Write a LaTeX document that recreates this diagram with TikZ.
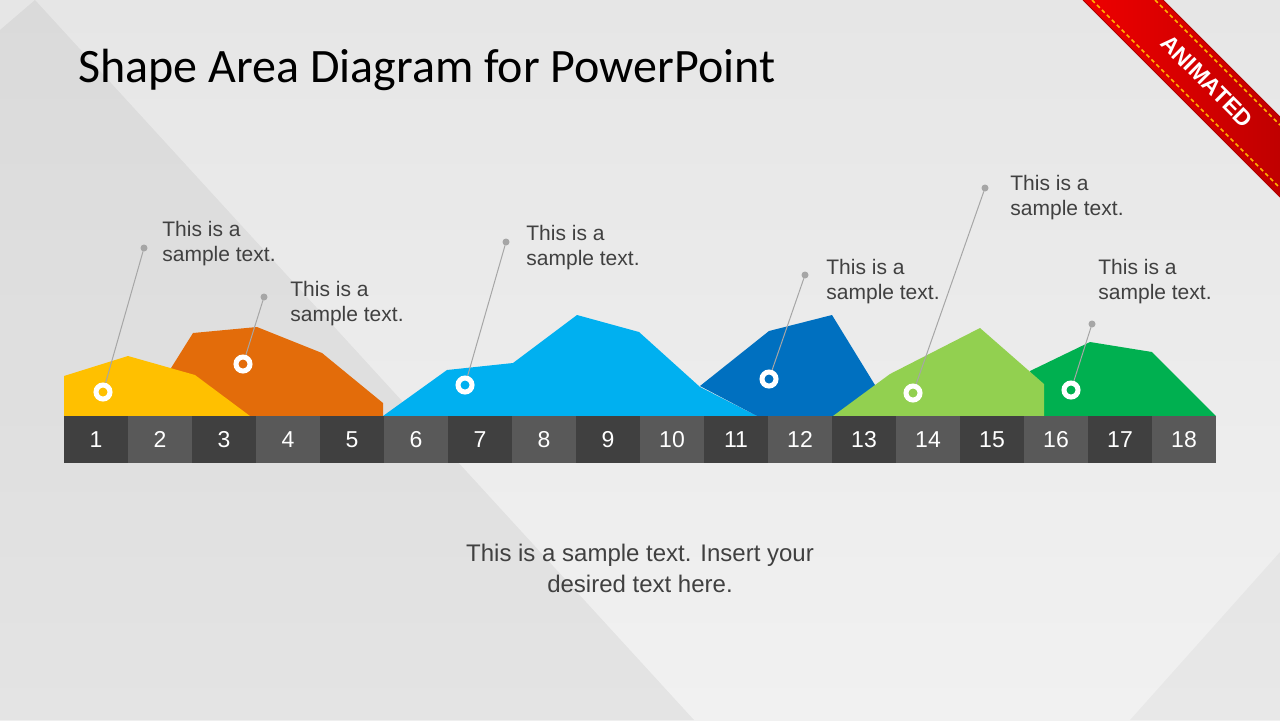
\documentclass[tikz,border=0pt]{standalone}
\usepackage{fontspec}
\setmainfont{Liberation Sans}
\newfontfamily\titlefont{Carlito}
\definecolor{cYel}{HTML}{FFC000}
\definecolor{cOra}{HTML}{E36C0A}
\definecolor{cLBlue}{HTML}{00B0F0}
\definecolor{cDBlue}{HTML}{0070C0}
\definecolor{cLGreen}{HTML}{92D050}
\definecolor{cDGreen}{HTML}{00B050}
\definecolor{barDark}{HTML}{404040}
\definecolor{barLight}{HTML}{595959}
\definecolor{txt}{HTML}{404040}
\definecolor{leader}{HTML}{A6A6A6}
\definecolor{bgTop}{HTML}{E6E6E6}
\definecolor{bgBot}{HTML}{F1F1F1}
\definecolor{ribA}{HTML}{EE0000}
\definecolor{ribB}{HTML}{C00000}
\definecolor{ribEdge}{HTML}{B00000}
\definecolor{stitch}{HTML}{FFB400}
\begin{document}
\begin{tikzpicture}[x=0.5pt,y=-0.5pt,
  cell/.style={minimum width=32pt,minimum height=23.5pt,inner sep=0pt,outer sep=0pt,text=white,font=\fontsize{11.5}{12}\selectfont},
  ring/.style={circle,draw=white,line width=2.5pt,minimum size=7pt,inner sep=0pt,outer sep=1.25pt},
  dot/.style={circle,fill=leader,minimum size=3.5pt,inner sep=0pt,outer sep=0pt},
  leaderline/.style={draw=leader,line width=0.5pt},
  callout/.style={anchor=west,align=left,inner sep=0pt,text=txt,font=\fontsize{10.5}{12.5}\selectfont}]
\useasboundingbox (0,0) rectangle (1280,720);
% background
\shade[top color=bgTop,bottom color=bgBot] (0,0) rectangle (1280,720);
\fill[black,opacity=0.05] (0,30) -- (35,0) -- (694,720) -- (0,720) -- cycle;
\fill[black,opacity=0.035] (1130,720) -- (1280,552) -- (1280,720) -- cycle;
% ribbon
\shade[left color=ribA,right color=ribB] (1083,0) -- (1163,0) -- (1280,117) -- (1280,197) -- cycle;
\draw[ribEdge,line width=0.4pt] (1083,0) -- (1280,197);
\draw[ribEdge,line width=0.4pt] (1163,0) -- (1280,117);
\draw[stitch,line width=0.75pt,dash pattern=on 2pt off 1.5pt] (1092,0) -- (1280,188);
\draw[stitch,line width=0.75pt,dash pattern=on 2pt off 1.5pt] (1155,0) -- (1280,125);
\node[rotate=-45,text=white,inner sep=0pt,font=\bfseries\fontsize{11.5}{11.5}\selectfont] (rib) at (1207,81) {ANIMATED};
% title
\node[anchor=base west,inner sep=0pt,text=black,font=\titlefont\fontsize{24}{28}\selectfont] (title) at (78,82) {Shape Area Diagram for PowerPoint};
% mountains
\fill[cOra] (141,416) -- (193,333) -- (257,327) -- (322,353) -- (383,403) -- (383,416) -- cycle;
\fill[cYel] (64,416) -- (64,376) -- (128,356) -- (195,375) -- (250,416) -- cycle;
\fill[cLBlue] (383,416) -- (447,370) -- (513,363) -- (577,315) -- (639,332) -- (700,387) -- (757,416) -- cycle;
\fill[cDBlue] (757,416) -- (700,386) -- (769,331) -- (832,315) -- (894,416) -- cycle;
\fill[cDGreen] (1044,416) -- (1030,371) -- (1090,342) -- (1152,352) -- (1216,416) -- cycle;
\fill[cLGreen] (833,416) -- (890,374) -- (980,328) -- (1044,384) -- (1044,416) -- cycle;
% bar
\foreach \i in {1,...,18}{
  \ifodd\i\relax\def\cc{barDark}\else\def\cc{barLight}\fi
  \node[cell,fill=\cc] (c\i) at ({32+64*\i},439.5) {\i};
}
% callouts
\node[ring] (p1) at (103,392) {};
\node[ring] (p2) at (243,364) {};
\node[ring] (p3) at (465,385) {};
\node[ring] (p4) at (769,379) {};
\node[ring] (p5) at (913,393) {};
\node[ring] (p6) at (1071,390) {};
\node[dot] (d1) at (144,248) {};
\node[dot] (d2) at (264,297) {};
\node[dot] (d3) at (506,242) {};
\node[dot] (d4) at (805,275) {};
\node[dot] (d5) at (985,188) {};
\node[dot] (d6) at (1092,324) {};
\foreach \k in {1,...,6}{ \draw[leaderline] (p\k) -- (d\k); }
\node[callout] (t1) at (162,243.5) {This is a\\sample text.};
\node[callout] (t2) at (290,303.5) {This is a\\sample text.};
\node[callout] (t3) at (526,247.5) {This is a\\sample text.};
\node[callout] (t4) at (826,281.5) {This is a\\sample text.};
\node[callout] (t5) at (1010,197.5) {This is a\\sample text.};
\node[callout] (t6) at (1098,281.5) {This is a\\sample text.};
% bottom note
\node[align=center,inner sep=0pt,text=txt,font=\fontsize{12}{15.5}\selectfont] (note) at (640,568.5) {This is a sample text. Insert your\\desired text here.};
\end{tikzpicture}
\end{document}
